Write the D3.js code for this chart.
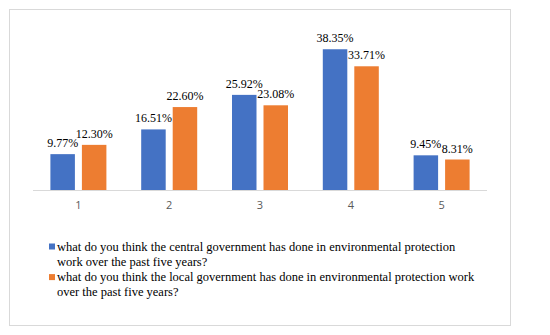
<!DOCTYPE html>
<html>
<head>
<meta charset="utf-8">
<script src="https://cdn.jsdelivr.net/npm/d3@7"></script>
</head>
<body style="margin:0">
<script>
const categories = ['1', '2', '3', '4', '5'];
const centralValues = [9.77, 16.51, 25.92, 38.35, 9.45];
const localValues = [12.30, 22.60, 23.08, 33.71, 8.31];
const seriesNames = [
  ['what do you think the central government has done in environmental protection',
   'work over the past five years?'],
  ['what do you think the local government has done in environmental protection work',
   'over the past five years?']
];
const colors = ['#4472C4', '#ED7D31'];

const width = 550;
const height = 335;

const svg = d3.select('body')
    .append('svg')
    .attr('width', width)
    .attr('height', height);

// outer frame
svg.append('rect')
    .attr('x', 9.5)
    .attr('y', 9.5)
    .attr('width', 501)
    .attr('height', 316)
    .attr('fill', '#fff')
    .attr('stroke', '#d9d9d9');

const plot = { left: 33, right: 487, bottom: 190 };

const xScale = d3.scaleBand()
    .domain(categories)
    .range([plot.left, plot.right]);

const yScale = d3.scaleLinear()
    .domain([0, 40])
    .range([plot.bottom, plot.bottom - 40 * 3.67]);

const barW = 24.5;
const gap = 7;

const data = categories.map((c, i) => ({
  cat: c,
  vals: [centralValues[i], localValues[i]]
}));

const groups = svg.selectAll('.group')
    .data(data)
    .enter()
    .append('g')
    .classed('group', true);

groups.selectAll('rect')
    .data(d => d.vals.map((v, s) => ({ cat: d.cat, v, s })))
    .enter()
    .append('rect')
    .attr('x', d => xScale(d.cat) + xScale.bandwidth() / 2 + (d.s === 0 ? -gap / 2 - barW : gap / 2))
    .attr('y', d => yScale(d.v))
    .attr('width', barW)
    .attr('height', d => plot.bottom - yScale(d.v))
    .attr('fill', d => colors[d.s]);

// value labels (default font renders as a Times-like serif)
groups.selectAll('text')
    .data(d => d.vals.map((v, s) => ({ cat: d.cat, v, s })))
    .enter()
    .append('text')
    .attr('x', d => xScale(d.cat) + xScale.bandwidth() / 2 + (d.s === 0 ? -gap / 2 - barW / 2 : gap / 2 + barW / 2))
    .attr('y', d => yScale(d.v) - 7)
    .attr('text-anchor', 'middle')
    .style('font-size', '12px')
    .attr('fill', '#000')
    .text(d => d.v.toFixed(2) + '%');

// x axis
const xAxis = d3.axisBottom(xScale).tickSize(0).tickPadding(11);
const axisG = svg.append('g')
    .attr('transform', `translate(0,${plot.bottom})`)
    .call(xAxis);
axisG.select('.domain').attr('stroke', '#d9d9d9').attr('d', `M${plot.left},0.5H${plot.right}`);
axisG.selectAll('text')
    .attr('fill', '#595959')
    .style('font-family', "'Open Sans'")
    .style('font-size', '11px');

// legend
const legend = svg.append('g');
const lineH = 15.3;
seriesNames.forEach((lines, s) => {
  const y0 = 250.5 + s * 2 * lineH;
  legend.append('rect')
      .attr('x', 49)
      .attr('y', y0 - 7)
      .attr('width', 6)
      .attr('height', 6)
      .attr('fill', colors[s]);
  const t = legend.append('text')
      .style('font-size', '12.5px')
      .attr('fill', '#000');
  lines.forEach((ln, j) => {
    t.append('tspan')
        .attr('x', 57)
        .attr('y', y0 + j * lineH)
        .text(ln);
  });
});
</script>
</body>
</html>
